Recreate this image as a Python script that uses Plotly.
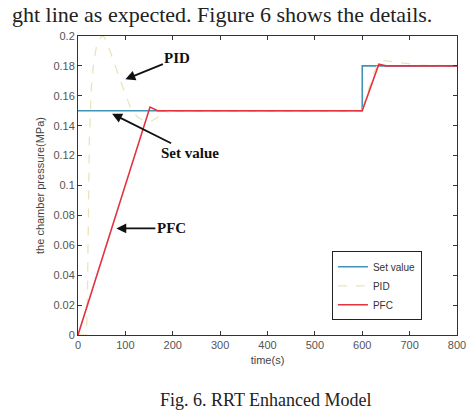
import plotly.graph_objects as go

# ---- data ----
set_t = [0, 600, 600, 800]
set_p = [0.15, 0.15, 0.18, 0.18]

pfc_t = [0, 152, 168, 600, 635, 650, 800]
pfc_p = [0.0, 0.1525, 0.15, 0.15, 0.1812, 0.18, 0.18]

pid_t = [0, 18, 20, 22, 24, 28, 33, 40, 50, 56, 70, 85, 100, 112, 125, 140, 155, 170, 185, 200, 250,
         600, 612, 625, 635, 645, 660, 690, 720, 800]
pid_p = [0.0, 0.0, 0.03, 0.09, 0.13, 0.165, 0.182, 0.195, 0.2, 0.199, 0.188, 0.174, 0.161, 0.151,
         0.146, 0.143, 0.143, 0.146, 0.149, 0.15, 0.15,
         0.15, 0.163, 0.176, 0.1825, 0.1835, 0.183, 0.1815, 0.1805, 0.18]

x_ticks = [0, 100, 200, 300, 400, 500, 600, 700, 800]
y_ticks = [0, 0.02, 0.04, 0.06, 0.08, 0.1, 0.12, 0.14, 0.16, 0.18, 0.2]
y_tick_labels = ["0", "0.02", "0.04", "0.06", "0.08", "0.1", "0.12", "0.14", "0.16", "0.18", "0.2"]

fig = go.Figure()
fig.add_trace(go.Scatter(x=set_t, y=set_p, mode="lines", name="Set value",
                         line=dict(color="#3f94b8", width=1.6)))
fig.add_trace(go.Scatter(x=pid_t, y=pid_p, mode="lines", name="PID",
                         line=dict(color="#ebe4b8", width=1.3, dash="dash")))
fig.add_trace(go.Scatter(x=pfc_t, y=pfc_p, mode="lines", name="PFC",
                         line=dict(color="#e2333f", width=1.6)))

serif = "Liberation Serif, Times New Roman, serif"
ann_font = dict(family=serif, size=15, color="#111")
arrow = dict(showarrow=True, arrowhead=2, arrowsize=1.1, arrowwidth=1.8, arrowcolor="#111",
             xref="x", yref="y", axref="pixel", ayref="pixel")

annotations = [
    dict(x=100, y=0.171, text="<b>PID</b>", ax=52, ay=-21, font=ann_font, **arrow),
    dict(x=72, y=0.148, text="<b>Set value</b>", ax=78, ay=39, font=ann_font, **arrow),
    dict(x=81, y=0.0713, text="<b>PFC</b>", ax=55, ay=0, font=ann_font, **arrow),
    dict(x=0.381, y=1.1193, xref="paper", yref="paper", xanchor="center", yanchor="top",
         text="ght line as expected. Figure 6 shows the details.", showarrow=False,
         font=dict(family=serif, size=22, color="#222")),
    dict(x=0.496, y=-0.217, xref="paper", yref="paper", xanchor="center", yanchor="middle",
         text="Fig. 6. RRT Enhanced Model", showarrow=False,
         font=dict(family=serif, size=18, color="#222")),
]

fig.update_layout(
    width=474, height=414,
    margin=dict(l=78, r=17, t=36, b=79, autoexpand=False),
    paper_bgcolor="white", plot_bgcolor="white",
    showlegend=True,
    legend=dict(x=0.67, y=0.28, xanchor="left", yanchor="top",
                bgcolor="white", bordercolor="#222", borderwidth=1,
                font=dict(family="Liberation Sans, Arial", size=10, color="#333"),
                tracegroupgap=0, itemwidth=30),
    annotations=annotations,
)

axis_common = dict(showgrid=False, zeroline=False, showline=True, linecolor="#333", linewidth=1,
                   mirror="allticks", ticks="inside", ticklen=4, tickcolor="#333", automargin=False,
                   tickfont=dict(family="Liberation Sans, Arial", size=11, color="#555"))

fig.update_xaxes(range=[0, 800], tickvals=x_ticks, ticktext=[str(v) for v in x_ticks],
                 title=dict(text="time(s)", font=dict(family="Liberation Sans, Arial", size=11, color="#444"),
                            standoff=6),
                 **axis_common)
fig.update_yaxes(range=[0, 0.2], tickvals=y_ticks, ticktext=y_tick_labels,
                 title=dict(text="the chamber pressure(MPa)",
                            font=dict(family="Liberation Sans, Arial", size=11, color="#444"), standoff=6),
                 **axis_common)

fig.write_html("out.html", config={"displayModeBar": False},
               post_script="document.body.style.margin='0';document.body.style.overflow='hidden';")
